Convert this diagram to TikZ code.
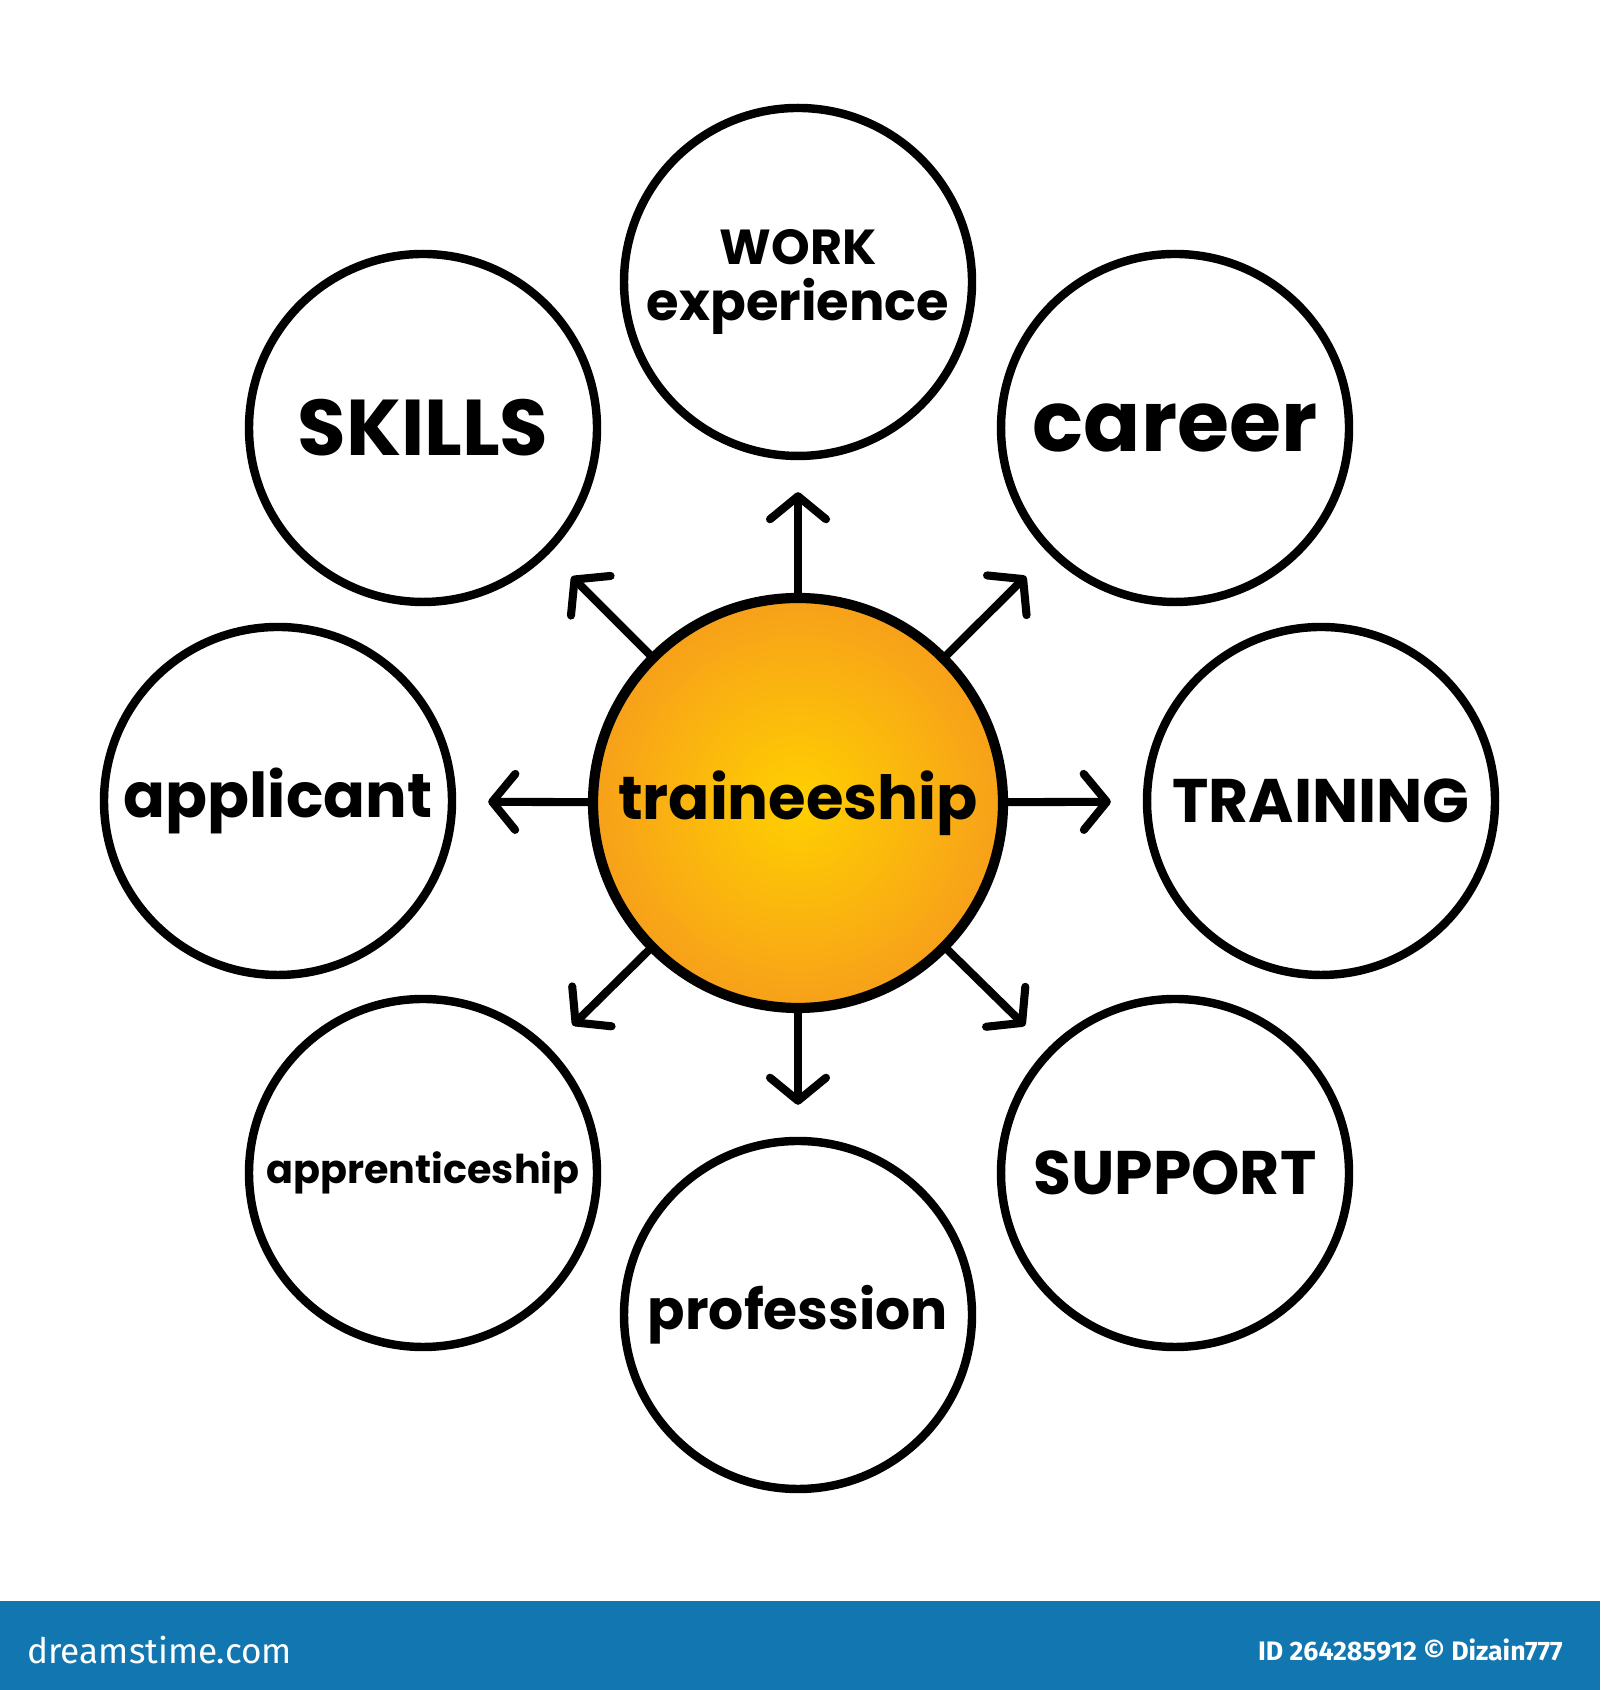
\documentclass[tikz,border=0pt]{standalone}
\usepackage{fontspec}
\setmainfont{Poppins}
\newfontfamily\barfont{Fira Sans}
\usetikzlibrary{arrows.meta}

\definecolor{coreyellow}{HTML}{FFD000}
\definecolor{coreorange}{HTML}{F7A01A}
\definecolor{barblue}{HTML}{1277B0}

\newcommand{\fsz}[1]{\bfseries\fontsize{#1}{#1}\selectfont}

\tikzset{
  topic/.style={circle, draw, line width=2.4pt, minimum size=3.48cm,
    inner sep=0pt, align=center},
  hub/.style={circle, draw, line width=2.9pt, minimum size=4.1cm,
    inner sep=0pt, inner color=coreyellow, outer color=coreorange},
  link/.style={line width=2.3pt, line cap=round,
    -{Straight Barb[length=2.3mm, width=5.6mm, line width=2.3pt, round]},
    shorten >=0.32cm}
}

\begin{document}
\begin{tikzpicture}

    \useasboundingbox (0,0) rectangle (16,16.9);

    % Central idea
    \node[hub] (core) at (7.98,8.87) {\fsz{17.3}traineeship};

    % Surrounding topics
    \node[topic] (work)    at (7.98,14.08) {{\fsz{14}WORK}\\[3pt]{\fsz{15}experience}};
    \node[topic] (career)  at (11.75,12.62) {\fsz{24}career};
    \node[topic] (train)   at (13.21,8.89) {\fsz{17.5}TRAINING};
    \node[topic] (support) at (11.75,5.17) {\fsz{17.5}SUPPORT};
    \node[topic] (prof)    at (7.98,3.75) {\fsz{15.7}profession};
    \node[topic] (appren)  at (4.23,5.17) {\fsz{11.3}apprenticeship};
    \node[topic] (applic)  at (2.78,8.89) {\fsz{17.6}applicant};
    \node[topic] (skills)  at (4.23,12.62) {\fsz{22.5}SKILLS};

    % Arrows from the centre
    \foreach \t in {work,career,train,support,prof,appren,applic,skills}
        \draw[link] (core) -- (\t);

    % Footer bar
    \fill[barblue] (0,0) rectangle (16,0.89);
    \node[anchor=west, text=white, font=\barfont\fontsize{10}{10}\selectfont] (site) at (0.15,0.40) {dreamstime.com};
    \node[anchor=east, text=white, font=\barfont\bfseries\fontsize{7.6}{7.6}\selectfont] (credit) at (15.75,0.40) {ID 264285912 © Dizain777};

\end{tikzpicture}
\end{document}
